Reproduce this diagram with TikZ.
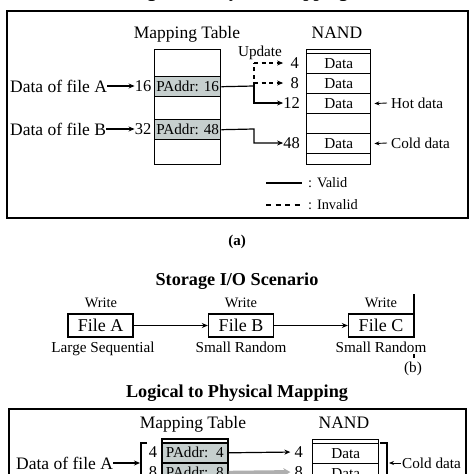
\documentclass[tikz,border=0pt]{standalone}
\usepackage{fontspec}
\setmainfont{Liberation Serif}
\usetikzlibrary{arrows.meta}
\definecolor{cellgray}{RGB}{198,207,206}
\definecolor{arrgray}{RGB}{175,175,175}
\tikzset{
  txtL/.style={inner sep=0pt, font=\fontsize{17.5}{19}\selectfont},
  txtN/.style={inner sep=0pt, font=\fontsize{16.5}{18}\selectfont},
  txtM/.style={inner sep=0pt, font=\fontsize{15.2}{17}\selectfont},
  txtS/.style={inner sep=0pt, font=\fontsize{14.4}{16}\selectfont},
  ttl/.style={inner sep=0pt, font=\fontsize{18.2}{20}\selectfont\bfseries},
  frame/.style={line width=2pt},
  cellA/.style={draw, line width=1.4pt, minimum width=66pt, inner sep=0pt, anchor=north west, font=\fontsize{15.2}{17}\selectfont},
  cellN/.style={draw, line width=1.4pt, minimum width=64pt, inner sep=0pt, anchor=north west, font=\fontsize{15.2}{17}\selectfont},
  fbox/.style={draw, line width=1.4pt, minimum width=65pt, minimum height=23pt, inner sep=0pt, font=\fontsize{18}{20}\selectfont},
  arr/.style={line width=1.2pt, -{Stealth[length=6pt,width=5pt]}},
  darr/.style={line width=1.2pt, dash pattern=on 4pt off 3.5pt, -{Stealth[length=6pt,width=5pt]}},
  dline/.style={line width=1.2pt, dash pattern=on 4pt off 3.5pt},
  lgdash/.style={line width=1.3pt, dash pattern=on 5pt off 4.5pt},
  sarr/.style={line width=0.9pt, -{Stealth[length=5pt,width=4pt]}},
  plain/.style={line width=1.2pt},
}
\begin{document}
\begin{tikzpicture}[x=1pt,y=-1pt]
\useasboundingbox (0,0) rectangle (474,474);
\clip (0,0) rectangle (474,474);
\fill[white] (0,0) rectangle (474,474);

% ---------- top cut-off title ----------
\node[ttl, anchor=base] (ttop) at (237,-2.5) {Logical to Physical Mapping};

% ---------- panel (a) ----------
\draw[frame] (7,11) rectangle (468,218);
\node[txtL, anchor=base] (mtA) at (187,38) {Mapping Table};
\node[txtL, anchor=base] (nandA) at (337,38) {NAND};

\node[cellA, minimum height=27pt] (t1) at (154,49) {};
\node[cellA, minimum height=20pt, fill=cellgray] (t2) at (154,76) {PAddr: 16};
\node[cellA, minimum height=23pt] (t3) at (154,96) {};
\node[cellA, minimum height=20pt, fill=cellgray] (t4) at (154,119) {PAddr: 48};
\node[cellA, minimum height=25pt] (t5) at (154,139) {};

\node[cellN, minimum height=4pt] (n0) at (306,49) {};
\node[cellN, minimum height=20pt] (n1) at (306,53) {Data};
\node[cellN, minimum height=20pt] (n2) at (306,73) {Data};
\node[cellN, minimum height=20pt] (n3) at (306,93) {Data};
\node[cellN, minimum height=20pt] (n4) at (306,113) {};
\node[cellN, minimum height=20pt] (n5) at (306,133) {Data};
\node[cellN, minimum height=11pt] (n6) at (306,153) {};

\node[txtL, anchor=west] (fa) at (10,86) {Data of file A};
\node[txtN] (l16) at (143,86) {16};
\node[txtL, anchor=west] (fb) at (10,129) {Data of file B};
\node[txtN] (l32) at (143,129) {32};
\draw[arr] (fa.east) -- (l16.west);
\draw[arr] (fb.east) -- (l32.west);

\node[txtM, anchor=base] (upd) at (260,56) {Update};
\node[txtN, anchor=east] (l4) at (299,63) {4};
\node[txtN, anchor=east] (l8) at (299,83) {8};
\node[txtN, anchor=east] (l12) at (300,103) {12};
\node[txtN, anchor=east] (l48) at (300,143) {48};

\coordinate (brA) at (254,86);
\coordinate (brA4) at (254,63);
\coordinate (brA8) at (254,83);
\coordinate (brA12) at (254,103);
\draw[plain] (t2.east) -- (brA);
\draw[dline] (brA) -- (brA4);
\draw[darr] (brA4) -- (brA4 -| l12.west);
\draw[darr] (brA8) -- (brA8 -| l12.west);
\draw[arr] (brA) -- (brA12) -- (l12.west);

\coordinate (brB) at (254,129);
\coordinate (brB2) at (254,143);
\draw[arr] (t4.east) -- (brB) -- (brB2) -- (l48.west);

\node[txtM, anchor=west] (hot) at (391,103) {Hot data};
\node[txtM, anchor=west] (cold) at (391,143) {Cold data};
\draw[sarr, shorten >=3pt] ([xshift=-4pt]hot.west) -- (n3.east);
\draw[sarr, shorten >=3pt] ([xshift=-4pt]cold.west) -- (n5.east);

\node[txtS, anchor=west] (valid) at (308,183) {: Valid};
\node[txtS, anchor=west] (invalid) at (308,205) {: Invalid};
\coordinate (lgv) at (266,183);
\coordinate (lgi) at (266,205);
\draw[plain] (lgv) -- ([xshift=-6pt]valid.west);
\draw[lgdash] (lgi) -- ([xshift=-6pt]invalid.west);

\node[inner sep=0pt, font=\fontsize{15}{17}\selectfont\bfseries, anchor=base] (capa) at (237,245) {(a)};

% ---------- panel (b) ----------
\node[ttl, anchor=base] (ttlb) at (237,285) {Storage I/O Scenario};
\node[fbox] (fA) at (100.5,325.5) {File A};
\node[fbox] (fB) at (241,325.5) {File B};
\node[fbox] (fC) at (381,325.5) {File C};
\node[txtS] (wA) at (101,303) {Write};
\node[txtS] (wB) at (241,303) {Write};
\node[txtS] (wC) at (381,303) {Write};
\node[txtM, anchor=base] (sA) at (103,352) {Large Sequential};
\node[txtM, anchor=base] (sB) at (241,352) {Small Random};
\node[txtM, anchor=base] (sC) at (381,352) {Small Random};
\draw[arr] (fA.east) -- (fB.west);
\draw[arr] (fB.east) -- (fC.west);
\coordinate (vt1) at (414,294);
\coordinate (vt2) at (414,338);
\draw[line width=1.4pt] (vt1) -- (vt2);
\coordinate (vd1) at (414,354);
\coordinate (vd2) at (414,358);
\draw[line width=1.2pt] (vd1) -- (vd2);
\node[txtM] (capb) at (413,369) {(b)};

% ---------- panel (c) ----------
\node[ttl, anchor=base] (ttlc) at (237,397) {Logical to Physical Mapping};
\draw[frame] (9,409) rectangle (466,500);
\node[txtL, anchor=base] (mtC) at (193,428) {Mapping Table};
\node[txtL, anchor=base] (nandC) at (344,428) {NAND};

\node[cellA, line width=1.6pt, minimum height=4pt] (c0) at (161,438) {};
\node[cellA, line width=1.6pt, minimum height=20pt, fill=cellgray] (c1) at (161,442) {PAddr:\ \ 4};
\node[cellA, line width=1.6pt, minimum height=20pt, fill=cellgray] (c2) at (161,462) {PAddr:\ \ 8};

\node[cellA, line width=1.4pt, minimum height=4pt] (d0) at (312,439) {};
\node[cellA, line width=1.4pt, minimum height=20pt] (d1) at (312,443) {Data};
\node[cellA, line width=1.4pt, minimum height=20pt] (d2) at (312,463) {Data};

\node[txtN] (cl4) at (153,452) {4};
\node[txtN] (cl8) at (153,472) {8};
\coordinate (lbA) at (147,443);
\coordinate (lbB) at (141,443);
\coordinate (lbC) at (141,490);
\draw[line width=1.4pt] (lbA) -- (lbB) -- (lbC);

\node[txtL, anchor=west] (fc) at (16,463) {Data of file A};
\coordinate (fcend) at (140,463);
\draw[arr] (fc.east) -- (fcend);

\node[txtN, anchor=east] (r4) at (303,452) {4};
\node[txtN, anchor=east] (r8) at (303,472) {8};
\draw[arr, shorten >=4pt] (c1.east) -- (r4.west);
\draw[line width=4pt, arrgray, -{Stealth[length=7pt,width=8pt]}, shorten >=4pt] (c2.east) -- (r8.west);

\coordinate (rbA) at (380,443);
\coordinate (rbB) at (387,443);
\coordinate (rbC) at (387,490);
\draw[line width=1.4pt] (rbA) -- (rbB) -- (rbC);
\node[txtM, anchor=west] (coldc) at (402,463) {Cold data};
\coordinate (coldtip) at (389,463);
\draw[sarr] ([xshift=-1pt]coldc.west) -- (coldtip);
\end{tikzpicture}
\end{document}
